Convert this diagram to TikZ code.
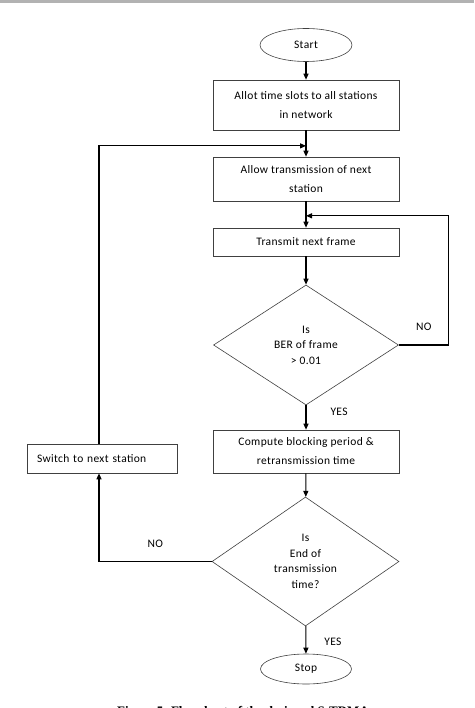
\documentclass[tikz,border=0pt]{standalone}
\usepackage{fontspec}
\setmainfont{Carlito}[LetterSpace=3]
\newfontfamily\capfont{Liberation Serif}
\usetikzlibrary{shapes, positioning, calc, arrows.meta}

\begin{document}
\begin{tikzpicture}[x=1pt, y=-1pt]
  \newcommand\boxwidth{186pt}
  \newcommand\lblgap{14pt}

  \tikzset{ptr/.style={line width=1.1pt, -{Triangle[length=6pt, width=5pt]}}}
  \tikzset{stepbox/.style={draw=black!75, line width=0.6pt, minimum width=\boxwidth, align=center, inner sep=2pt, font=\fontsize{11.5}{19}\selectfont}}
  \tikzset{termbox/.style={draw=black!75, line width=0.6pt, ellipse, minimum width=92pt, minimum height=33pt, font=\fontsize{11.5}{12}\selectfont}}
  \tikzset{decision/.style={draw=black!75, line width=0.6pt, diamond, align=center, inner sep=0pt, font=\fontsize{11.5}{15.6}\selectfont}}
  \tikzset{lbl/.style={inner sep=0pt, font=\fontsize{11.5}{12}\selectfont}}

  \useasboundingbox (0,0) rectangle (474,708);
  \fill[black!30] (0,0) rectangle (474,3);

  % main column
  \node[termbox] (start) at (306,45) {Start};
  \node[stepbox, minimum height=50pt] (allot) at (306,105) {Allot time slots to all stations\\in network};
  \node[stepbox, minimum height=44pt] (allow) at (306,179) {Allow transmission of next\\station};
  \node[stepbox, minimum height=28pt] (tx) at (306,242) {Transmit next frame};
  \node[decision, minimum width=185pt, minimum height=120pt] (ber) at (306,345) {Is\\BER of frame\\> 0.01};
  \node[stepbox, minimum height=43pt] (block) at (306,451.5) {Compute blocking period \&\\retransmission time};
  \node[decision, minimum width=187pt, minimum height=129pt] (endtx) at (305.5,561.5) {Is\\End of\\transmission\\time?};
  \node[termbox, minimum width=91pt, minimum height=30pt] (stop) at (306,669) {Stop};

  % side box
  \node[stepbox, minimum width=150pt, minimum height=29pt, text width=130pt, align=left] (switch) at (102,458.5) {Switch to next station};

  % caption (cut by the page edge)
  \node[font=\capfont\bfseries\fontsize{13}{15}\selectfont, anchor=base] (caption) at (243,715) {Figure 5. Flowchart of the designed S-TDMA};

  % re-entry points
  \coordinate (rejoin0) at ($(allot.south)!0.59!(allow.north)$);
  \coordinate (rejoin1) at ($(allow.south)!0.55!(tx.north)$);

  \draw[ptr] (start) -- (allot);
  \draw[ptr] (allot) -- (allow);
  \draw[ptr] (allow) -- (tx);
  \draw[ptr] (tx) -- (ber);
  \draw[ptr] (ber) -- node[lbl, pos=0.28, right=24pt] {YES} (block);
  \draw[ptr] (block) -- (endtx);
  \draw[ptr] (endtx) -- node[lbl, pos=0.57, right=18pt] {YES} (stop);

  \draw[ptr] (ber.east) -- ++(50,0) node[lbl, midway, above=\lblgap] {NO} |- (rejoin1);
  \draw[ptr] (endtx.west) -| node[lbl, pos=0.25, above=13pt] {NO} ([xshift=-3pt]switch.south);
  \draw[ptr] ([xshift=-3pt]switch.north) |- (rejoin0);
\end{tikzpicture}
\end{document}
